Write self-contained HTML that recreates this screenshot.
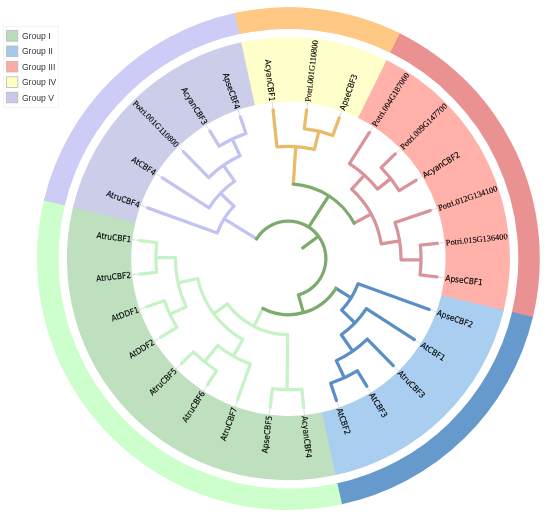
<!DOCTYPE html>
<html><head><meta charset="utf-8"><title>Phylogenetic tree</title>
<style>
html,body{margin:0;padding:0;background:#fff;}
body{width:550px;height:520px;overflow:hidden;}
svg{display:block;filter:blur(0.35px);}
text.d{font-family:"DejaVu Sans Condensed","DejaVu Sans","Liberation Sans",sans-serif;font-stretch:condensed;font-size:8.3px;}
text.s{font-family:"Liberation Serif","DejaVu Serif",serif;font-size:8.4px;}
text.l{font-family:"Liberation Sans","DejaVu Sans",sans-serif;font-size:8.6px;fill:#333;}
</style></head><body>
<svg width="550" height="520" viewBox="0 0 550 520">
<path d="M241.19 42.29A221.5 221.5 0 0 1 387.28 60.5L358.58 118.03A157.2 157.2 0 0 0 254.89 105.11Z" fill="#ffffcc"/>
<path d="M234.81 13.08A251.4 251.4 0 0 1 400.63 33.74L391.03 52.98A229.9 229.9 0 0 0 239.4 34.08Z" fill="#ffc885"/>
<path d="M386.42 60.07A221.5 221.5 0 0 1 503.64 311L441.16 295.82A157.2 157.2 0 0 0 357.96 117.73Z" fill="#ffb1aa"/>
<path d="M399.65 33.25A251.4 251.4 0 0 1 532.69 318.06L511.8 312.98A229.9 229.9 0 0 0 390.13 52.53Z" fill="#e99291"/>
<path d="M503.86 310.06A221.5 221.5 0 0 1 334.67 475.31L321.24 412.43A157.2 157.2 0 0 0 441.32 295.15Z" fill="#a9cef0"/>
<path d="M532.95 316.99A251.4 251.4 0 0 1 340.91 504.55L336.42 483.53A229.9 229.9 0 0 0 512.03 312.01Z" fill="#6699cc"/>
<path d="M335.61 475.11A221.5 221.5 0 0 1 73.16 206.4L135.64 221.58A157.2 157.2 0 0 0 321.91 412.29Z" fill="#bfe0bf"/>
<path d="M341.99 504.32A251.4 251.4 0 0 1 44.11 199.34L65 204.42A229.9 229.9 0 0 0 337.4 483.32Z" fill="#ccffcc"/>
<path d="M72.94 207.34A221.5 221.5 0 0 1 242.13 42.09L255.56 104.97A157.2 157.2 0 0 0 135.48 222.25Z" fill="#cbcde9"/>
<path d="M43.85 200.41A251.4 251.4 0 0 1 235.89 12.85L240.38 33.87A229.9 229.9 0 0 0 64.77 205.39Z" fill="#ccccf6"/>
<path d="M241.19 42.29A221.5 221.5 0 0 1 386.42 60.07L357.96 117.73A157.2 157.2 0 0 0 254.89 105.11Z" fill="#ffffcc"/>
<path d="M234.81 13.08A251.4 251.4 0 0 1 399.65 33.25L390.13 52.53A229.9 229.9 0 0 0 239.4 34.08Z" fill="#ffc885"/>
<path d="M147.58 207.9L140.06 205.19M162.42 177.84L155.68 173.52M183.57 151.83L177.96 146.12M209.98 131.19L205.78 124.37M240.32 116.93L237.75 109.36M273.07 109.79L272.25 101.83M306.59 110.11L307.56 102.17M339.2 117.88L341.91 110.36M369.26 132.72L373.58 125.98M395.27 153.87L400.98 148.26M415.91 180.28L422.73 176.08M430.17 210.62L437.74 208.05M437.31 243.37L445.27 242.55M436.99 276.89L444.93 277.86M429.22 309.5L436.74 312.21M414.38 339.56L421.12 343.88M393.23 365.57L398.84 371.28M366.82 386.21L371.02 393.03M336.48 400.47L339.05 408.04M303.73 407.61L304.55 415.57M270.21 407.29L269.24 415.23M237.6 399.52L234.89 407.04M207.54 384.68L203.22 391.42M181.53 363.53L175.82 369.14M160.89 337.12L154.07 341.32M146.63 306.78L139.06 309.35M139.49 274.03L131.53 274.85M139.81 240.51L131.87 239.54" stroke="#d4d4d4" stroke-width="0.8" fill="none"/>
<path d="M262.92 308.57L253.82 326.38M287.67 334.7A76 76 0 0 1 227.24 303.82M287.67 334.7L287.14 389.69M301.82 389.01A131 131 0 0 1 272.48 388.73M301.82 389.01L303.73 407.61M272.48 388.73L270.21 407.29M227.24 303.82L213.72 313.79M242.73 339.49A92.8 92.8 0 0 1 197.73 278.48M242.73 339.49L233.29 356.2M250.4 364.05A112 112 0 0 1 217.73 345.59M250.4 364.05L237.6 399.52M217.73 345.59L204.48 361.88M216.56 370.63A133 133 0 0 1 193.46 351.84M216.56 370.63L207.54 384.68M193.46 351.84L181.53 363.53M197.73 278.48L178 282.79M186.12 306.75A113 113 0 0 1 175.41 257.62M186.12 306.75L169.83 314.4M176.82 327.33A131 131 0 0 1 164.34 300.78M176.82 327.33L160.89 337.12M164.34 300.78L146.63 306.78M175.41 257.62L155.91 257.43M156.6 272.27A132.5 132.5 0 0 1 156.88 242.6M156.6 272.27L139.49 274.03M156.88 242.6L139.81 240.51" stroke="#c6f3c6" stroke-width="3.25" fill="none" stroke-linecap="round" stroke-linejoin="round"/>
<path d="M256.56 238.89L224.21 218.76M217.29 233.05A75.6 75.6 0 0 1 233.97 206.24M217.29 233.05L147.58 207.9M233.97 206.24L220.5 193.26M209.04 207.77A94.3 94.3 0 0 1 234.57 181.27M209.04 207.77L162.42 177.84M234.57 181.27L223.5 165.34M208.78 177.53A113.7 113.7 0 0 1 240.05 155.79M208.78 177.53L183.57 151.83M240.05 155.79L232.19 139.05M219.14 146.09A132.2 132.2 0 0 1 245.94 133.51M219.14 146.09L209.98 131.19M245.94 133.51L240.32 116.93" stroke="#c3c3f3" stroke-width="3.25" fill="none" stroke-linecap="round" stroke-linejoin="round"/>
<path d="M293.31 184.06L295.78 146.54M276.89 146.89A112.4 112.4 0 0 1 314.46 149.36M276.89 146.89L273.07 109.79M314.46 149.36L318.77 131.27M304.32 128.67A131 131 0 0 1 332.85 135.47M304.32 128.67L306.59 110.11M332.85 135.47L339.2 117.88" stroke="#e9bb66" stroke-width="3.25" fill="none" stroke-linecap="round" stroke-linejoin="round"/>
<path d="M354.21 223.15L371.1 214.02M351.71 189.21A94 94 0 0 1 381.22 243.84M351.71 189.21L364.5 175.17M349.44 163.6A113 113 0 0 1 377.42 189.1M349.44 163.6L369.26 132.72M377.42 189.1L390.81 178.63M381.2 167.66A130 130 0 0 1 399.13 190.6M381.2 167.66L395.27 153.87M399.13 190.6L415.91 180.28M381.22 243.84L399.59 240.91M395.03 222.53A112.6 112.6 0 0 1 400.99 259.78M395.03 222.53L430.17 210.62M400.99 259.78L420.99 259.97M420.3 245.12A132.6 132.6 0 0 1 420.02 274.81M420.3 245.12L437.31 243.37M420.02 274.81L436.99 276.89" stroke="#d9939b" stroke-width="3.25" fill="none" stroke-linecap="round" stroke-linejoin="round"/>
<path d="M335.95 288.28L351.23 297.79M358.01 283.81A74 74 0 0 1 341.68 310.05M358.01 283.81L429.22 309.5M341.68 310.05L355.07 322.96M366.33 308.72A92.6 92.6 0 0 1 341.26 334.73M366.33 308.72L414.38 339.56M341.26 334.73L352.67 351.15M367.25 339.08A112.6 112.6 0 0 1 336.28 360.61M367.25 339.08L393.23 365.57M336.28 360.61L344.36 377.81M357.34 370.8A131.6 131.6 0 0 1 330.67 383.33M357.34 370.8L366.82 386.21M330.67 383.33L336.48 400.47" stroke="#5b8ec4" stroke-width="3.25" fill="none" stroke-linecap="round" stroke-linejoin="round"/>
<path d="M302.81 247.91L318.42 236.23M256.56 238.89A37.5 37.5 0 1 1 298.43 294.83M308.66 227.14L328.8 195.75M293.31 184.06A74.8 74.8 0 0 1 354.21 223.15M298.43 294.83L303.39 312.66M335.95 288.28A56 56 0 0 1 262.92 308.57" stroke="#7dab6e" stroke-width="3.25" fill="none" stroke-linecap="round" stroke-linejoin="round"/>
<g font-size="8.3" fill="#000" stroke="#000" stroke-width="0.12">
<text class="d" transform="translate(288.4 258.7) rotate(444.12)" x="-158.2" y="0" dy="0.35em" text-anchor="end">AcyanCBF1</text>
<text class="s" transform="translate(288.4 258.7) rotate(-83.02)" x="158.2" y="0" dy="0.35em">Potri.001G110800</text>
<text class="d" transform="translate(288.4 258.7) rotate(-70.16)" x="158.2" y="0" dy="0.35em">ApseCBF3</text>
<text class="s" transform="translate(288.4 258.7) rotate(-57.31)" x="158.2" y="0" dy="0.35em">Potri.004G187000</text>
<text class="s" transform="translate(288.4 258.7) rotate(-44.45)" x="158.2" y="0" dy="0.35em">Potri.009G147700</text>
<text class="d" transform="translate(288.4 258.7) rotate(-31.59)" x="158.2" y="0" dy="0.35em">AcyanCBF2</text>
<text class="s" transform="translate(288.4 258.7) rotate(-18.74)" x="158.2" y="0" dy="0.35em">Potri.012G134100</text>
<text class="s" transform="translate(288.4 258.7) rotate(-5.88)" x="158.2" y="0" dy="0.35em">Potri.015G136400</text>
<text class="d" transform="translate(288.4 258.7) rotate(6.98)" x="158.2" y="0" dy="0.35em">ApseCBF1</text>
<text class="d" transform="translate(288.4 258.7) rotate(19.84)" x="158.2" y="0" dy="0.35em">ApseCBF2</text>
<text class="d" transform="translate(288.4 258.7) rotate(32.69)" x="158.2" y="0" dy="0.35em">AtCBF1</text>
<text class="d" transform="translate(288.4 258.7) rotate(45.55)" x="158.2" y="0" dy="0.35em">AtruCBF3</text>
<text class="d" transform="translate(288.4 258.7) rotate(58.41)" x="158.2" y="0" dy="0.35em">AtCBF3</text>
<text class="d" transform="translate(288.4 258.7) rotate(71.26)" x="158.2" y="0" dy="0.35em">AtCBF2</text>
<text class="d" transform="translate(288.4 258.7) rotate(84.12)" x="158.2" y="0" dy="0.35em">AcyanCBF4</text>
<text class="d" transform="translate(288.4 258.7) rotate(276.98)" x="-158.2" y="0" dy="0.35em" text-anchor="end">ApseCBF5</text>
<text class="d" transform="translate(288.4 258.7) rotate(289.84)" x="-158.2" y="0" dy="0.35em" text-anchor="end">AtruCBF7</text>
<text class="d" transform="translate(288.4 258.7) rotate(302.69)" x="-158.2" y="0" dy="0.35em" text-anchor="end">AtruCBF6</text>
<text class="d" transform="translate(288.4 258.7) rotate(315.55)" x="-158.2" y="0" dy="0.35em" text-anchor="end">AtruCBF5</text>
<text class="d" transform="translate(288.4 258.7) rotate(328.41)" x="-158.2" y="0" dy="0.35em" text-anchor="end">AtDDF2</text>
<text class="d" transform="translate(288.4 258.7) rotate(341.26)" x="-158.2" y="0" dy="0.35em" text-anchor="end">AtDDF1</text>
<text class="d" transform="translate(288.4 258.7) rotate(354.12)" x="-158.2" y="0" dy="0.35em" text-anchor="end">AtruCBF2</text>
<text class="d" transform="translate(288.4 258.7) rotate(366.98)" x="-158.2" y="0" dy="0.35em" text-anchor="end">AtruCBF1</text>
<text class="d" transform="translate(288.4 258.7) rotate(379.84)" x="-158.2" y="0" dy="0.35em" text-anchor="end">AtruCBF4</text>
<text class="d" transform="translate(288.4 258.7) rotate(392.69)" x="-158.2" y="0" dy="0.35em" text-anchor="end">AtCBF4</text>
<text class="s" transform="translate(288.4 258.7) rotate(405.55)" x="-158.2" y="0" dy="0.35em" text-anchor="end">Potri.001G110800</text>
<text class="d" transform="translate(288.4 258.7) rotate(418.41)" x="-158.2" y="0" dy="0.35em" text-anchor="end">AcyanCBF3</text>
<text class="d" transform="translate(288.4 258.7) rotate(431.26)" x="-158.2" y="0" dy="0.35em" text-anchor="end">ApseCBF4</text>
</g>
<rect x="3.5" y="26.5" width="55" height="81" fill="#fff" stroke="#f4f4f4" stroke-width="1"/>
<rect x="6.5" y="30.6" width="11.3" height="10.6" fill="#b9deb9" stroke="#b8b8b8" stroke-width="0.8"/>
<text class="l" x="21.9" y="39">Group I</text>
<rect x="6.5" y="46" width="11.3" height="10.6" fill="#a3c9ef" stroke="#b8b8b8" stroke-width="0.8"/>
<text class="l" x="21.9" y="54.4">Group II</text>
<rect x="6.5" y="61.4" width="11.3" height="10.6" fill="#ffaaa4" stroke="#b8b8b8" stroke-width="0.8"/>
<text class="l" x="21.9" y="69.8">Group III</text>
<rect x="6.5" y="76.8" width="11.3" height="10.6" fill="#ffffc2" stroke="#b8b8b8" stroke-width="0.8"/>
<text class="l" x="21.9" y="85.2">Group IV</text>
<rect x="6.5" y="92.2" width="11.3" height="10.6" fill="#c9c9e9" stroke="#b8b8b8" stroke-width="0.8"/>
<text class="l" x="21.9" y="100.6">Group V</text>
</svg>
</body></html>
